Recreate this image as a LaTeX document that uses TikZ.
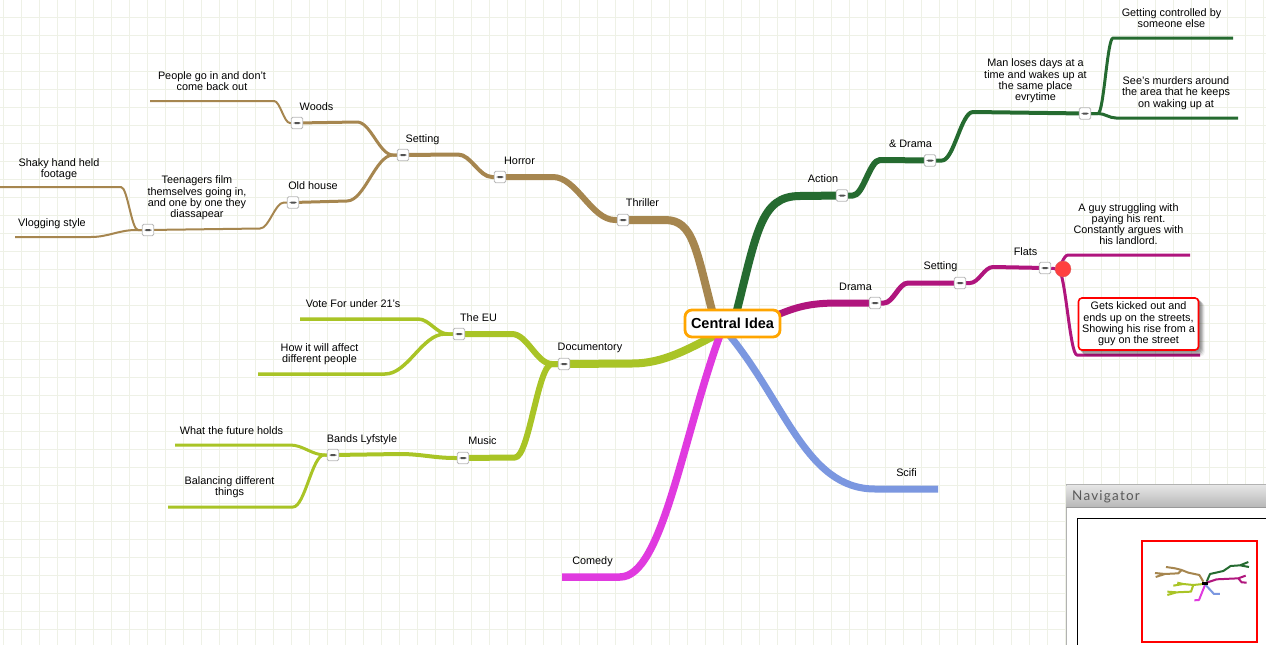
\documentclass[tikz,border=0pt]{standalone}
\usepackage{fontspec}
\setmainfont{Liberation Sans}
\newfontfamily\navfont[LetterSpace=9]{Lato}
\usetikzlibrary{calc,backgrounds}
\definecolor{cbrown}{HTML}{A6864F}
\definecolor{cgreen}{HTML}{256B30}
\definecolor{cmag}{HTML}{B0157D}
\definecolor{colive}{HTML}{A9C426}
\definecolor{cpink}{HTML}{E03ADF}
\definecolor{cblue}{HTML}{7B97E0}
\definecolor{cgrid}{HTML}{EEF1E6}
\definecolor{corange}{HTML}{FFA500}
% colour, width, from, bend, to, start offset in x
\newcommand{\branch}[6]{%
  \coordinate (ss) at ($(#3)+(#6,0)$);
  \coordinate (ma) at ($(ss)!.38!(#4)$);
  \coordinate (mb) at ($(ss)!.62!(#4)$);
  \draw[#1,line width=#2pt,line join=round] (#3) -- (ss) .. controls (ma |- ss) and (mb |- #4) .. (#4) -- (#5);
}
% colour, width, from, control 1, control 2, bend, to
\newcommand{\trunk}[7]{%
  \draw[#1,line width=#2pt,line join=round] (#3) .. controls (#4) and (#5) .. (#6) -- (#7);
}
\tikzset{
  lbl/.style={font=\fontsize{10.85}{11.25}\selectfont,align=center,inner sep=0pt,text=black,yshift=-1pt},
  btn/.style={draw=black!28,fill=white,rounded corners=1.5pt,minimum size=11.5pt,inner sep=0pt,line width=0.9pt,
    path picture={\fill[black!68] ($(path picture bounding box.center)+(-3.5pt,-1pt)$) rectangle ($(path picture bounding box.center)+(3.5pt,1pt)$);}},
}
\begin{document}
\begin{tikzpicture}[x=1pt,y=-1pt]
\useasboundingbox (0,0) rectangle (1266,645);
% nodes
\node[draw=corange,fill=white,line width=2.8pt,rounded corners=7pt,minimum width=95pt,minimum height=27pt,inner sep=0pt,font=\fontsize{14.5}{15}\selectfont\bfseries] (center) at (732.5,323.5) {Central Idea};
\node[btn] (bThriller) at (623,220) {};
\node[btn] (bHorror) at (500,177) {};
\node[btn] (bSetting) at (403,155) {};
\node[btn] (bWoods) at (297,123) {};
\node[btn] (bOld) at (293,202.5) {};
\node[btn] (bTeen) at (148,230) {};
\node[btn] (bAction) at (842,195.5) {};
\node[btn] (bAmp) at (930,160.5) {};
\node[btn] (bMan) at (1085,113.5) {};
\node[btn] (bDrama) at (875,303) {};
\node[btn] (bSet2) at (960,283) {};
\node[btn] (bFlats) at (1045,268) {};
\node[btn] (bDoc) at (564,364) {};
\node[btn] (bEU) at (459,334) {};
\node[btn] (bMusic) at (463,458) {};
\node[btn] (bBands) at (333,455) {};
\node[circle,fill=red!75!white,draw=red!70!black!60,line width=.3pt,minimum size=16pt,inner sep=0pt] (dot) at (1063,269) {};

\node[lbl] (tThriller) at (642.5,202) {Thriller};
\node[lbl] (tHorror) at (519.5,160) {Horror};
\node[lbl] (tSetting) at (422.5,139) {Setting};
\node[lbl] (tWoods) at (316.5,106) {Woods};
\node[lbl] (tOld) at (313,185) {Old house};
\node[lbl] (tPeople) at (212,80) {People go in and don't\\come back out};
\node[lbl] (tTeen) at (197,197) {Teenagers film\\themselves going in,\\and one by one they\\diassapear};
\node[lbl] (tShaky) at (59,168) {Shaky hand held\\footage};
\node[lbl] (tVlog) at (52,223) {Vlogging style};
\node[lbl] (tAction) at (823,178) {Action};
\node[lbl] (tAmp) at (910.5,143) {\& Drama};
\node[lbl] (tMan) at (1035.5,80) {Man loses days at a\\time and wakes up at\\the same place\\evrytime};
\node[lbl] (tGet) at (1171.5,17) {Getting controlled by\\someone else};
\node[lbl] (tSee) at (1176,92) {See's murders around\\the area that he keeps\\on waking up at};
\node[lbl] (tDrama) at (855.5,286) {Drama};
\node[lbl] (tSet2) at (940.5,266) {Setting};
\node[lbl] (tFlats) at (1025.5,251) {Flats};
\node[lbl] (tGuy) at (1128.5,223) {A guy struggling with\\paying his rent.\\Constantly argues with\\his landlord.};
\node[lbl,yshift=1pt,draw=red,fill=white,line width=1.6pt,rounded corners=3.5pt,minimum width=120pt,minimum height=52pt] (tGets) at (1138.5,324) {Gets kicked out and\\ends up on the streets,\\Showing his rise from a\\guy on the street};
\node[lbl] (tDoc) at (590,347) {Documentory};
\node[lbl] (tEU) at (478.5,317) {The EU};
\node[lbl] (tVote) at (353,303) {Vote For under 21's};
\node[lbl] (tHow) at (319.5,353) {How it will affect\\different people};
\node[lbl] (tMusic) at (482.5,440) {Music};
\node[lbl] (tBands) at (362,439) {Bands Lyfstyle};
\node[lbl] (tWhat) at (231.5,430) {What the future holds};
\node[lbl] (tBal) at (229.5,486) {Balancing different\\things};
\node[lbl] (tComedy) at (592.5,561) {Comedy};
\node[lbl] (tScifi) at (906.5,472) {Scifi};

% free ends and bends
\foreach \n/\x/\y in {
 cT/715/322, p1T/696/250, p2T/694/220, kT/665/220,
 kH/553/177, kS/458/154.5, kW/357/122, kO/347/201,
 eP/150/101, kP/274/101, kTe/260/228.5,
 eS/0/187, kSh/121/187, eV/15/237, kV/91/237,
 cA/734/322, p1A/757/232, p2A/760/196, kA/800/196,
 kAm/880/160, kM/973/112,
 kG/1113/38, eG/1233/38, kSe/1116/118, eSe/1238/118,
 cD/775/316, p1D/800/305, p2D/815/303, kD/840/303,
 kSt/908/283, kF/993/267,
 kGu/1068/255, eGu/1190/255, kGe/1077/355, eGe/1200/355,
 cO/725/330, p1O/690/348, p2O/665/363.5, kDo/632/363.5,
 kE/512/334,
 kVo/418/319, eVo/300/319, kHo/385/374, eHo/258/374,
 kMu/515/457.5, kB/400/454, kWh/290/445, eWh/175/445, kBa/293/507, eBa/168/507,
 cC/720/335, p1C/682/440, p2C/662/577, kC/620/577, eC/562/577,
 cS/725/330, p1S/785/400, p2S/805/489, kSc/875/489, eSc/938/489}{\coordinate (\n) at (\x,\y);}

\begin{pgfonlayer}{background}
\fill[white] (0,0) rectangle (1266,645);
\foreach \i in {0,...,70}{\draw[cgrid,line width=1pt] ({3.5+18*\i},0) -- ({3.5+18*\i},645);}
\foreach \i in {0,...,36}{\draw[cgrid,line width=1pt] (0,{-.5+18*\i}) -- (1266,{-.5+18*\i});}
% Thriller side
\trunk{cbrown}{8}{cT}{p1T}{p2T}{kT}{bThriller}
\branch{cbrown}{6}{bThriller}{kH}{bHorror}{-8}
\branch{cbrown}{4}{bHorror}{kS}{bSetting}{-8}
\branch{cbrown}{3}{bSetting}{kW}{bWoods}{-10}
\branch{cbrown}{3}{bSetting}{kO}{bOld}{-10}
\branch{cbrown}{2}{bWoods}{kP}{eP}{-7}
\branch{cbrown}{2}{bOld}{kTe}{bTeen}{-9}
\branch{cbrown}{2}{bTeen}{kSh}{eS}{-10}
\branch{cbrown}{2}{bTeen}{kV}{eV}{-12}
% Action side
\trunk{cgreen}{8}{cA}{p1A}{p2A}{kA}{bAction}
\branch{cgreen}{6}{bAction}{kAm}{bAmp}{11}
\branch{cgreen}{4}{bAmp}{kM}{bMan}{12}
\branch{cgreen}{3}{bMan}{kG}{eG}{13}
\branch{cgreen}{3}{bMan}{kSe}{eSe}{13}
% Drama
\trunk{cmag}{7}{cD}{p1D}{p2D}{kD}{bDrama}
\branch{cmag}{5}{bDrama}{kSt}{bSet2}{9}
\branch{cmag}{4}{bSet2}{kF}{bFlats}{10}
\draw[cmag,line width=3pt] (bFlats) -- (dot);
\branch{cmag}{3}{dot}{kGu}{eGu}{-7}
\branch{cmag}{3}{dot}{kGe}{eGe}{-5}
% Documentary
\trunk{colive}{8}{cO}{p1O}{p2O}{kDo}{bDoc}
\branch{colive}{6}{bDoc}{kE}{bEU}{-12}
\branch{colive}{3.5}{bEU}{kVo}{eVo}{-11}
\branch{colive}{3.5}{bEU}{kHo}{eHo}{-14}
\branch{colive}{6}{bDoc}{kMu}{bMusic}{-12}
\branch{colive}{4}{bMusic}{kB}{bBands}{-8}
\branch{colive}{3}{bBands}{kWh}{eWh}{-8}
\branch{colive}{3}{bBands}{kBa}{eBa}{-9}
% Comedy, Scifi
\trunk{cpink}{7.5}{cC}{p1C}{p2C}{kC}{eC}
\trunk{cblue}{7}{cS}{p1S}{p2S}{kSc}{eSc}
% shadow of the red box
\foreach \d/\o in {.5/.08,1.5/.10,2.5/.12,3.5/.12,4.5/.08,5.5/.05}{
  \fill[black,opacity=\o,rounded corners=4pt] ($(tGets.north west)+(\d,\d)$) rectangle ($(tGets.south east)+(\d,\d)$);}
\end{pgfonlayer}

% navigator
\fill[white] (1066,484) rectangle (1266,645);
\draw[black!30,line width=1pt] (1066,645) -- (1066,484.5) -- (1266,484.5);
\shade[top color=black!10,bottom color=black!28] (1066.5,485) rectangle (1266,507);
\draw[black!40,line width=.8pt] (1066,507.5) -- (1266,507.5);
\node[anchor=west,inner sep=0pt,text=black!65,font=\navfont\fontsize{13.5}{14}\selectfont] (nav) at (1072,497) {Navigator};
\draw[black,line width=1pt] (1077.5,645) -- (1077.5,518.5) -- (1266,518.5);
\draw[red,line width=2pt] (1142,541) rectangle (1257,642);
\begin{scope}[shift={(1040,470)},x=.3333pt,y=-.3333pt,line width=2pt,line join=round]
\draw[cbrown] (490,335)--(478,315)--(445,308)--(425,300)--(405,295)--(378,291);
\draw[cbrown] (425,300)--(415,310)--(375,312)--(345,309) (375,312)--(347,321);
\draw[cgreen] (500,335)--(510,312)--(550,303)--(572,288)--(600,286)--(625,276) (600,286)--(627,291);
\draw[cmag] (500,338)--(530,328)--(595,325)--(617,317) (595,325)--(605,337)--(620,338);
\draw[colive] (490,342)--(460,345)--(430,342)--(400,347) (430,342)--(412,338);
\draw[colive] (460,345)--(453,365)--(410,367)--(382,365) (410,367)--(382,375);
\draw[cpink] (495,345)--(477,390)--(463,391);
\draw[cblue] (497,345)--(522,372)--(540,372);
\fill[black] (485,336) rectangle (504,345);
\end{scope}
\end{tikzpicture}
\end{document}
